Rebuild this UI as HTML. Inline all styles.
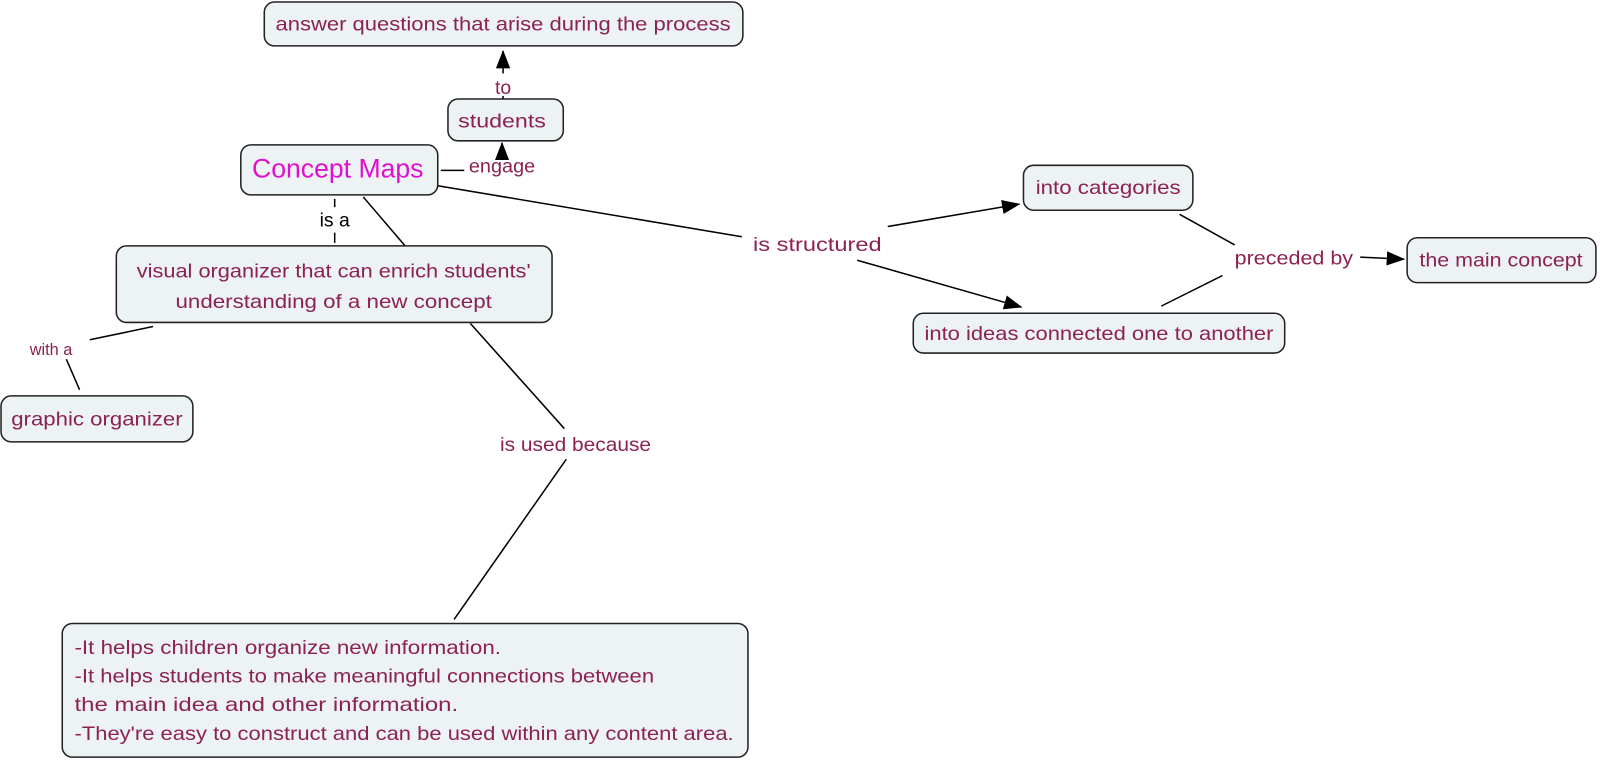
<!DOCTYPE html>
<html><head><meta charset="utf-8"><style>
html,body{margin:0;padding:0;background:#fff;}
svg{display:block;}
text{font-family:"Liberation Sans",sans-serif;font-size:19px;fill:#8b2252;}
</style></head><body>
<svg width="1600" height="760" viewBox="0 0 1568 744.8" preserveAspectRatio="none" xmlns="http://www.w3.org/2000/svg">
<defs>
<marker id="b" markerWidth="18" markerHeight="14" refX="17" refY="7" orient="auto" markerUnits="userSpaceOnUse"><path d="M0,0 L18,7 L0,14 z" fill="#000"/></marker></defs>
<g stroke="#000" stroke-width="1.5" fill="none">
<line x1="493" y1="97" x2="493" y2="94"/>
<line x1="493" y1="72" x2="493" y2="50" marker-end="url(#b)"/>
<line x1="432" y1="167" x2="455" y2="167"/>
<line x1="492" y1="156" x2="492" y2="140" marker-end="url(#b)"/>
<line x1="328" y1="195" x2="328" y2="203"/>
<line x1="328" y1="228" x2="328" y2="238"/>
<line x1="356" y1="193" x2="397" y2="241"/>
<line x1="150" y1="320" x2="88" y2="333"/>
<line x1="65" y1="352" x2="78" y2="382"/>
<line x1="461" y1="317" x2="553" y2="420"/>
<line x1="555" y1="450" x2="445" y2="607"/>
<line x1="429" y1="182" x2="727" y2="232"/>
<line x1="870" y1="222" x2="999" y2="200" marker-end="url(#b)"/>
<line x1="840" y1="255" x2="1001" y2="301" marker-end="url(#b)"/>
<line x1="1156" y1="210" x2="1210" y2="240"/>
<line x1="1138" y1="300" x2="1198" y2="270"/>
<line x1="1333" y1="252" x2="1376" y2="254" marker-end="url(#b)"/>
</g>
<g fill="#edf2f4" stroke="#222" stroke-width="1.5">
<rect x="259" y="2" width="469" height="43" rx="10"/>
<rect x="439" y="97" width="113" height="41" rx="10"/>
<rect x="236" y="142" width="193" height="49" rx="10"/>
<rect x="114" y="241" width="427" height="75" rx="10"/>
<rect x="1" y="388" width="188" height="45" rx="10"/>
<rect x="1003" y="162" width="166" height="44" rx="10"/>
<rect x="895" y="307" width="364" height="39" rx="10"/>
<rect x="1379" y="233" width="185" height="44" rx="10"/>
<rect x="61" y="611" width="672" height="131" rx="10"/>
</g>
<g text-anchor="middle">
<text x="493" y="30" textLength="446" lengthAdjust="spacingAndGlyphs">answer questions that arise during the process</text>
<text x="492" y="125" textLength="86" lengthAdjust="spacingAndGlyphs">students</text>
<text x="331" y="174" style="font-size:26px;fill:#e010d0" textLength="168" lengthAdjust="spacingAndGlyphs">Concept Maps</text>
<text x="327" y="272" textLength="386" lengthAdjust="spacingAndGlyphs">visual organizer that can enrich students'</text>
<text x="327" y="302" textLength="310" lengthAdjust="spacingAndGlyphs">understanding of a new concept</text>
<text x="95" y="417" textLength="168" lengthAdjust="spacingAndGlyphs">graphic organizer</text>
<text x="1086" y="190" textLength="142" lengthAdjust="spacingAndGlyphs">into categories</text>
<text x="1077" y="333" textLength="342" lengthAdjust="spacingAndGlyphs">into ideas connected one to another</text>
<text x="1471" y="261" textLength="160" lengthAdjust="spacingAndGlyphs">the main concept</text>
<text x="493" y="92">to</text>
<text x="492" y="169" textLength="65" lengthAdjust="spacingAndGlyphs">engage</text>
<text x="328" y="222" style="fill:#000">is a</text>
<text x="50" y="348" style="font-size:16px">with a</text>
<text x="564" y="442" textLength="148" lengthAdjust="spacingAndGlyphs">is used because</text>
<text x="801" y="246" textLength="126" lengthAdjust="spacingAndGlyphs">is structured</text>
<text x="1268" y="259" textLength="116" lengthAdjust="spacingAndGlyphs">preceded by</text>
</g>
<g>
<text x="73" y="641" textLength="418" lengthAdjust="spacingAndGlyphs">-It helps children organize new information.</text>
<text x="73" y="669" textLength="568" lengthAdjust="spacingAndGlyphs">-It helps students to make meaningful connections between</text>
<text x="73" y="697" textLength="376" lengthAdjust="spacingAndGlyphs">the main idea and other information.</text>
<text x="73" y="725" textLength="646" lengthAdjust="spacingAndGlyphs">-They're easy to construct and can be used within any content area.</text>
</g>
</svg>
</body></html>
